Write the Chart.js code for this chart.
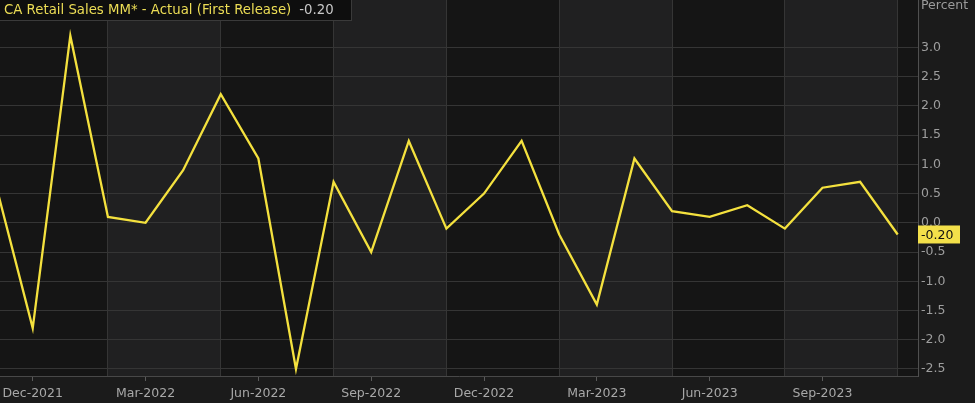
<!DOCTYPE html>
<html>
<head>
<meta charset="utf-8">
<script src="https://cdn.jsdelivr.net/npm/chart.js"></script>
<style>
    html, body { margin: 0; padding: 0; background: #1b1b1b; overflow: hidden; }
    #retail { display: block; }
</style>
</head>
<body>
<canvas id="retail" width="975" height="403"></canvas>
<script>
// monthly values, CA retail sales m/m, first release
const months = [
    'Nov-2021', 'Dec-2021',
    'Jan-2022', 'Feb-2022', 'Mar-2022', 'Apr-2022', 'May-2022', 'Jun-2022',
    'Jul-2022', 'Aug-2022', 'Sep-2022', 'Oct-2022', 'Nov-2022', 'Dec-2022',
    'Jan-2023', 'Feb-2023', 'Mar-2023', 'Apr-2023', 'May-2023', 'Jun-2023',
    'Jul-2023', 'Aug-2023', 'Sep-2023', 'Oct-2023', 'Nov-2023'
];
const actual = [
    0.7, -1.8,
    3.2, 0.1, 0.0, 0.9, 2.2, 1.1,
    -2.5, 0.7, -0.5, 1.4, -0.1, 0.5,
    1.4, -0.2, -1.4, 1.1, 0.2, 0.1,
    0.3, -0.1, 0.6, 0.7, -0.2
];
const yTicks = [-2.5, -2.0, -1.5, -1.0, -0.5, 0.0, 0.5, 1.0, 1.5, 2.0, 2.5, 3.0];
const seriesName = 'CA Retail Sales MM* - Actual (First Release)';
const unitName = 'Percent';

const FONT = '"DejaVu Sans", sans-serif';
const lastValue = actual[actual.length - 1];

// alternating background bands between the quarter grid lines
const bandsPlugin = {
    id: 'bands',
    beforeDraw(chart) {
        const ctx = chart.ctx;
        const area = chart.chartArea;
        const x = chart.scales.x;
        ctx.save();
        ctx.fillStyle = '#151515';
        ctx.fillRect(area.left, area.top, area.right - area.left, area.bottom - area.top);
        ctx.fillStyle = '#202021';
        for (let i = 3; i < months.length; i += 6) {
            const x1 = Math.max(x.getPixelForValue(i), area.left);
            const x2 = Math.min(x.getPixelForValue(i + 3), area.right);
            ctx.fillRect(x1, area.top, x2 - x1, area.bottom - area.top);
        }
        ctx.restore();
    },
    afterDraw(chart) {
        const ctx = chart.ctx;
        const area = chart.chartArea;
        const y = chart.scales.y;
        ctx.save();

        // title box top left
        ctx.fillStyle = '#0e0e0e';
        ctx.fillRect(0, 0, 352, 21);
        ctx.strokeStyle = '#3a3a3a';
        ctx.lineWidth = 1;
        ctx.strokeRect(-0.5, -0.5, 352, 21);
        ctx.font = '13.3px ' + FONT;
        ctx.textBaseline = 'middle';
        ctx.textAlign = 'left';
        ctx.fillStyle = '#ecdd55';
        ctx.fillText(seriesName, 4, 11);
        const w = ctx.measureText(seriesName).width;
        ctx.fillStyle = '#c8c8c8';
        ctx.fillText(lastValue.toFixed(2), 4 + w + 8, 11);

        // unit above the right axis
        ctx.font = '12.5px ' + FONT;
        ctx.fillStyle = '#9a9a9a';
        ctx.fillText(unitName, area.right + 3, 6);

        // last value tag
        const py = y.getPixelForValue(lastValue);
        ctx.fillStyle = '#f3e04a';
        ctx.fillRect(area.right, py - 9, 42, 18);
        ctx.fillStyle = '#111111';
        ctx.fillText(lastValue.toFixed(2), area.right + 3, py + 1);
        ctx.restore();
    }
};

const data = {
    datasets: [
        {
            label: seriesName,
            data: actual.map((v, i) => ({x: i, y: v})),
            borderColor: '#f4e13e',
            borderWidth: 2.3,
            pointRadius: 0,
            tension: 0,
            fill: false
        }
    ]
};

const config = {
    type: 'line',
    data: data,
    plugins: [bandsPlugin],
    options: {
        responsive: false,
        animation: false,
        layout: {padding: 0},
        plugins: {
            legend: {display: false},
            tooltip: {enabled: false}
        },
        scales: {
            x: {
                type: 'linear',
                min: 0.13,
                max: 24.54,
                afterBuildTicks: scale => {
                    const t = [];
                    for (let i = 1; i < months.length; i++) {
                        if (i % 3 !== 2) t.push({value: i});
                    }
                    scale.ticks = t;
                },
                afterFit: scale => {
                    scale.height = 27;
                    scale.paddingLeft = 0;
                    scale.paddingRight = 0;
                },
                grid: {
                    color: c => (c.tick && c.tick.value % 3 === 0) ? '#353535' : 'rgba(0,0,0,0)',
                    tickColor: c => (c.tick && c.tick.value % 3 === 1) ? '#5a5a5a' : 'rgba(0,0,0,0)',
                    tickLength: 5,
                    drawTicks: true
                },
                border: {color: '#484848'},
                ticks: {
                    autoSkip: false,
                    maxRotation: 0,
                    padding: 5,
                    color: '#a8a8a8',
                    font: {family: FONT, size: 12.5},
                    callback: value => value % 3 === 1 ? months[value] : ''
                }
            },
            y: {
                position: 'right',
                min: -2.62,
                max: 3.81,
                afterBuildTicks: scale => {
                    scale.ticks = yTicks.map(v => ({value: v}));
                },
                afterFit: scale => {
                    scale.width = 57;
                    scale.paddingTop = 0;
                    scale.paddingBottom = 0;
                },
                grid: {
                    color: '#353535',
                    drawTicks: false
                },
                border: {color: '#505050'},
                ticks: {
                    padding: 3,
                    color: '#9e9e9e',
                    font: {family: FONT, size: 12.5},
                    callback: value => value.toFixed(1)
                }
            }
        }
    }
};

const retailChart = new Chart(document.getElementById('retail'), config);
</script>
</body>
</html>
